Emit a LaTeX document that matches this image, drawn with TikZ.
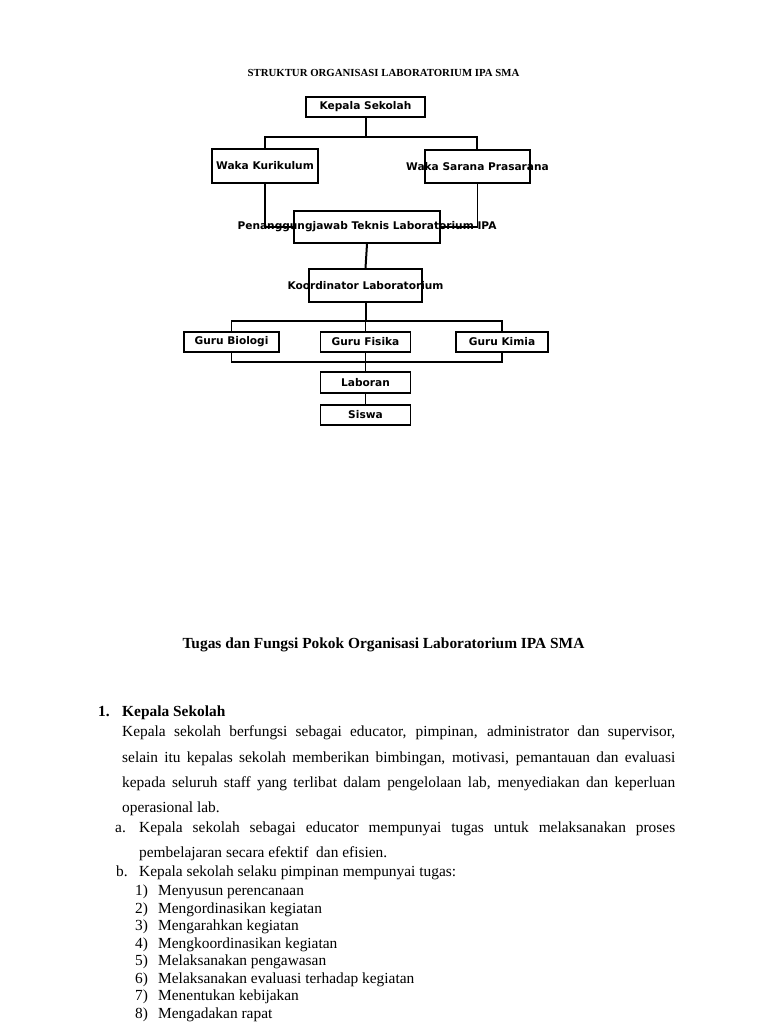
\documentclass[tikz,border=0pt]{standalone}
\usepackage{fontspec}
\setmainfont{Liberation Serif}
\newfontfamily\bagan{DejaVu Sans}
\usepackage{tikz}

\tikzset{
  teks/.style={font=\bagan\bfseries\fontsize{10.6}{12}\selectfont, inner sep=0pt},
  kotak/.style={draw, line width=1.7pt, fill=white, inner sep=0pt, label={[teks]center:#1}},
  garis/.style={line width=1.2pt},
  tebal/.style={line width=2pt},
  isi/.style={anchor=base west, inner sep=0pt, font=\fontsize{15.4}{18}\selectfont},
  tebalisi/.style={isi, font=\bfseries\fontsize{15.4}{18}\selectfont}
}

\begin{document}
\begin{tikzpicture}[x=1pt, y=-1pt]
\fill[white] (0,0) rectangle (768,1024);
\useasboundingbox (0,0) rectangle (768,1024);

% judul bagan
\node[inner sep=0pt, font=\bfseries\fontsize{10.8}{13}\selectfont] (judul) at (383.5,73) {STRUKTUR ORGANISASI LABORATORIUM IPA SMA};

% kotak-kotak bagan
\node[kotak={Kepala Sekolah}, minimum width=119pt, minimum height=20pt] (kepsek) at (365.5,107) {};
\node[kotak={Waka Kurikulum}, minimum width=106pt, minimum height=34pt] (wakakur) at (265,166) {};
\node[kotak={Waka Sarana Prasarana}, minimum width=105pt, minimum height=33pt] (wakasar) at (477.5,166.5) {};
\node[kotak={Penanggungjawab Teknis Laboratorium IPA}, minimum width=146pt, minimum height=32pt] (pj) at (367,227) {};
\node[kotak={Koordinator Laboratorium}, minimum width=113pt, minimum height=33pt] (koord) at (365.5,285.5) {};
\node[kotak={Guru Biologi}, minimum width=95pt, minimum height=20pt] (biologi) at (231.5,342) {};
\node[kotak={Guru Fisika}, minimum width=90pt, minimum height=20pt] (fisika) at (365.5,342) {};
\node[kotak={Guru Kimia}, minimum width=92pt, minimum height=20pt] (kimia) at (502,342) {};
\node[kotak={Laboran}, minimum width=90pt, minimum height=21pt] (laboran) at (365.5,382.5) {};
\node[kotak={Siswa}, minimum width=90pt, minimum height=20pt] (siswa) at (365.5,415) {};

\coordinate (cabang1) at (365.5,137);
\coordinate (cabang2) at (365.5,321);
\coordinate (cabang3) at (365.5,362);

% garis penghubung
\draw[tebal] (kepsek.south) -- (cabang1);
\draw[garis] (wakakur.north) |- (cabang1);
\draw[garis] (cabang1) -| (wakasar.north);
\draw[tebal] ([xshift=-0.4pt]wakasar.north) -- ++(0,-13);
\draw[garis] (wakakur.south) |- (pj.west);
\draw[garis] (wakasar.south) |- (pj.east);
\draw[tebal] (pj.south) -- (koord.north);
\draw[tebal] (koord.south) -- (cabang2);
\draw[garis] (biologi.north) |- (cabang2) -| (kimia.north);
\draw[garis] (cabang2) -- (fisika.north);
\draw[garis] (biologi.south) |- (cabang3) -| (kimia.south);
\draw[garis] (fisika.south) -- (laboran.north);
\draw[garis] (laboran.south) -- (siswa.north);

% teks di bawah bagan
\node[inner sep=0pt, font=\bfseries\fontsize{15.4}{18}\selectfont] (judul2) at (383.5,645) {Tugas dan Fungsi Pokok Organisasi Laboratorium IPA SMA};

\node[tebalisi] (no1) at (98,716) {1.};
\node[tebalisi] (kepala) at (122,716) {Kepala Sekolah};
\node[isi] (par1) at (122,736.5) {\makebox[553pt][s]{Kepala sekolah berfungsi sebagai educator, pimpinan, administrator dan supervisor,}};
\node[isi] (par2) at (122,762) {\makebox[553pt][s]{selain itu kepalas sekolah memberikan bimbingan, motivasi, pemantauan dan evaluasi}};
\node[isi] (par3) at (122,787) {\makebox[553pt][s]{kepada seluruh staff yang terlibat dalam pengelolaan lab, menyediakan dan keperluan}};
\node[isi] (par4) at (122,812) {operasional lab.};

\node[isi] (hurufa) at (115,832) {a.};
\node[isi] (poina) at (139,832) {\makebox[536pt][s]{Kepala sekolah sebagai educator mempunyai tugas untuk melaksanakan proses}};
\node[isi] (poina2) at (139,857) {pembelajaran secara efektif\ \ dan efisien.};
\node[isi] (hurufb) at (116,876) {b.};
\node[isi] (poinb) at (139,876) {Kepala sekolah selaku pimpinan mempunyai tugas:};

\node[isi] (tugas1) at (135,895.5) {\makebox[23pt][l]{1)}Menyusun perencanaan};
\node[isi] (tugas2) at (135,913) {\makebox[23pt][l]{2)}Mengordinasikan kegiatan};
\node[isi] (tugas3) at (135,930.5) {\makebox[23pt][l]{3)}Mengarahkan kegiatan};
\node[isi] (tugas4) at (135,948) {\makebox[23pt][l]{4)}Mengkoordinasikan kegiatan};
\node[isi] (tugas5) at (135,965.5) {\makebox[23pt][l]{5)}Melaksanakan pengawasan};
\node[isi] (tugas6) at (135,983) {\makebox[23pt][l]{6)}Melaksanakan evaluasi terhadap kegiatan};
\node[isi] (tugas7) at (135,1000.5) {\makebox[23pt][l]{7)}Menentukan kebijakan};
\node[isi] (tugas8) at (135,1018) {\makebox[23pt][l]{8)}Mengadakan rapat};

\end{tikzpicture}
\end{document}
